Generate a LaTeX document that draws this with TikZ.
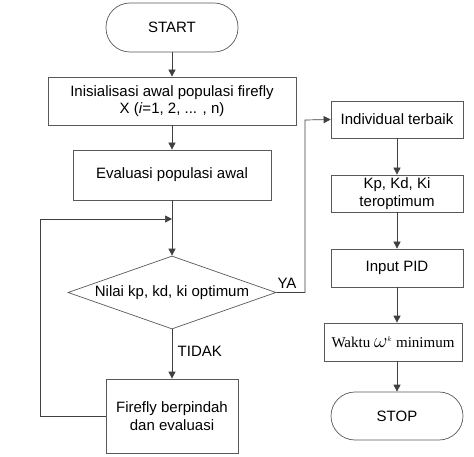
\documentclass[tikz,border=0pt]{standalone}
\usepackage{fontspec}
\setmainfont{Liberation Sans}
\newfontfamily\serifwaktu{Liberation Serif}
\usetikzlibrary{shapes.geometric,arrows.meta}
\begin{document}
\begin{tikzpicture}[x=1pt,y=1pt,
  font=\fontsize{15}{17.5}\selectfont,
  box/.style={draw=black!65, line width=0.7pt, align=center, inner sep=0pt},
  term/.style={box, rounded corners=24pt},
  flow/.style={draw=black!75, line width=0.7pt, -{Triangle[length=7pt,width=7pt]}},
  plain/.style={draw=black!75, line width=0.7pt}]
\useasboundingbox (0,0) rectangle (474,-457);
\fill[white] (0,0) rectangle (474,-457);
\node[term, minimum width=132pt, minimum height=49pt] (start) at (172,-27.5) {START};
\node[box, minimum width=248pt, minimum height=48pt] (init) at (172,-101) {Inisialisasi awal populasi firefly\\X (\textit{i}=1, 2, ... , n)};
\node[box, minimum width=198pt, minimum height=50pt] (eval) at (172,-175) {Evaluasi populasi awal};
\node[draw=black!65, line width=0.7pt, diamond, aspect=2.85, inner sep=0pt, minimum width=208pt, minimum height=73pt] (dec) at (172,-292.5) {Nilai kp, kd, ki optimum};
\node[box, minimum width=132pt, minimum height=74pt] (move) at (172,-416) {Firefly berpindah\\dan evaluasi};
\node[box, minimum width=132pt, minimum height=37pt] (best) at (397,-119.5) {Individual terbaik};
\node[box, minimum width=132pt, minimum height=37pt] (kp) at (397,-193.5) {Kp, Kd, Ki\\teroptimum};
\node[box, minimum width=132pt, minimum height=38pt] (pid) at (397,-268) {Input PID};
\node[box, minimum width=138pt, minimum height=38pt] (waktu) at (393,-342) {\serifwaktu\fontsize{15}{17}\selectfont Waktu {\fontsize{20}{22}\selectfont$\omega$}$^{\scriptscriptstyle k}$ minimum};
\node[term, minimum width=132pt, minimum height=48pt] (stop) at (397,-416) {STOP};
\coordinate (join) at (172,-219);
\coordinate (loopA) at (40,-416);
\coordinate (loopB) at (40,-219);
\coordinate (yaA) at (305,-292.5);
\coordinate (yaB) at (305,-120);
\draw[flow] (start) -- (init);
\draw[flow] (init) -- (eval);
\draw[flow] (eval) -- (dec);
\draw[flow] (dec) -- node[right, xshift=2pt, pos=0.45] (tidak) {TIDAK} (move);
\draw[plain] (move.west) -- (loopA) -- (loopB);
\draw[flow] (loopB) -- (join);
\draw[flow] (dec.east) -- (yaA) -- (yaB) -- (best.west);
\node (ya) at (287,-283) {YA};
\draw[flow] (best) -- (kp);
\draw[flow] (kp) -- (pid);
\draw[flow] (pid) -- (pid |- waktu.north);
\draw[flow] (pid |- waktu.south) -- (stop);
\end{tikzpicture}
\end{document}
